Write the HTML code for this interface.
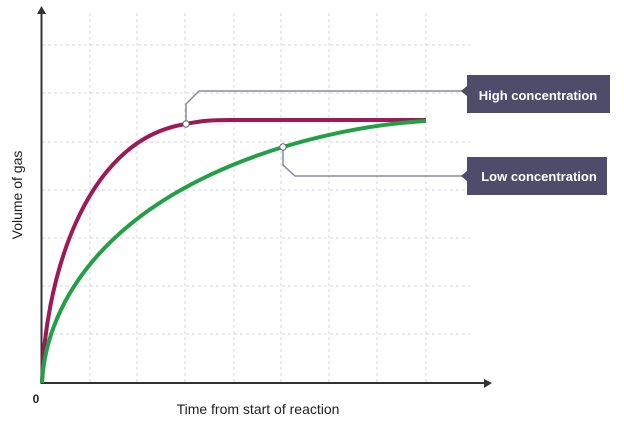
<!DOCTYPE html>
<html><head><style>body{margin:0;background:#fff}</style></head><body>
<svg width="624" height="424" xmlns="http://www.w3.org/2000/svg" font-family="Liberation Sans, sans-serif">
<g stroke="#d4d2e6" stroke-width="1" stroke-dasharray="3,3">
<line x1="90" y1="13" x2="90" y2="383"/><line x1="137" y1="13" x2="137" y2="383"/><line x1="185" y1="13" x2="185" y2="383"/><line x1="234" y1="13" x2="234" y2="383"/><line x1="281" y1="13" x2="281" y2="383"/><line x1="329" y1="13" x2="329" y2="383"/><line x1="377" y1="13" x2="377" y2="383"/><line x1="426" y1="13" x2="426" y2="383"/>
<line x1="42" y1="45" x2="473" y2="45"/><line x1="42" y1="93" x2="473" y2="93"/><line x1="42" y1="142" x2="473" y2="142"/><line x1="42" y1="190" x2="473" y2="190"/><line x1="42" y1="238" x2="473" y2="238"/><line x1="42" y1="286" x2="473" y2="286"/><line x1="42" y1="334" x2="473" y2="334"/>
</g>
<line x1="41.5" y1="12" x2="41.5" y2="384" stroke="#333" stroke-width="2"/>
<polygon points="41.5,6 37,14 46,14" fill="#333"/>
<line x1="41" y1="383" x2="486" y2="383" stroke="#333" stroke-width="2"/>
<polygon points="492,383 484,379 484,388" fill="#333"/>
<path d="M42,383 C44,290 80,140 186,124 C200,121 210,120 230,120 L426,120" fill="none" stroke="#9e1a57" stroke-width="4"/>
<path d="M42,383 C46,300 110,200 283,147 C340,130 390,123 426,121" fill="none" stroke="#22a046" stroke-width="4"/>
<polyline points="186,124 186,104 199,91 470,91" fill="none" stroke="#888aa0" stroke-width="1.5"/>
<polyline points="283,147 283,165 295,176 470,176" fill="none" stroke="#888aa0" stroke-width="1.5"/>
<circle cx="186" cy="124" r="3.2" fill="#fff" stroke="#666" stroke-width="1"/>
<circle cx="283" cy="147" r="3.2" fill="#fff" stroke="#666" stroke-width="1"/>
<rect x="467" y="75" width="143" height="38" fill="#4f4c6b"/>
<polygon points="467,86 461,91 467,96" fill="#4f4c6b"/>
<text x="538" y="100" fill="#fff" font-size="13" font-weight="bold" text-anchor="middle">High concentration</text>
<rect x="467" y="157" width="140" height="38" fill="#4f4c6b"/>
<polygon points="467,171 461,176 467,181" fill="#4f4c6b"/>
<text x="539" y="181" fill="#fff" font-size="13" font-weight="bold" text-anchor="middle">Low concentration</text>
<text x="36" y="403" font-size="12" font-weight="bold" fill="#222" text-anchor="middle">0</text>
<text x="258" y="414" font-size="14" fill="#222" text-anchor="middle">Time from start of reaction</text>
<text transform="translate(22,195) rotate(-90)" font-size="14" fill="#222" text-anchor="middle">Volume of gas</text>
</svg>
</body></html>
